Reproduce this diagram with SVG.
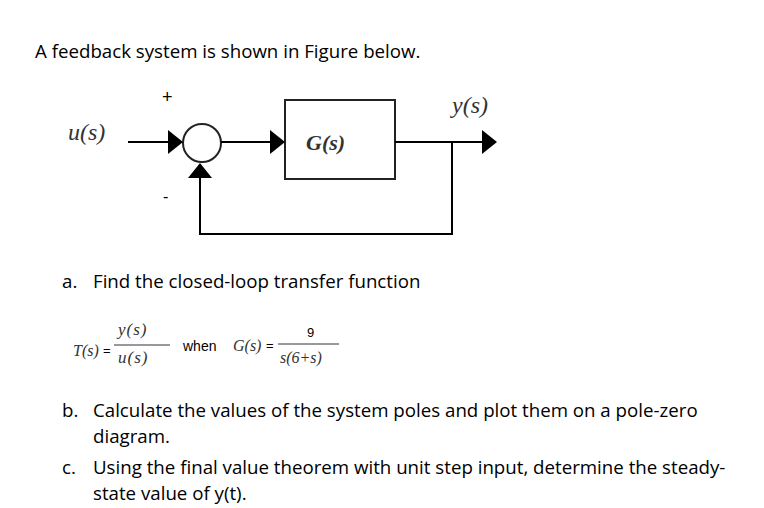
<svg xmlns="http://www.w3.org/2000/svg" width="764" height="508" viewBox="0 0 764 508">
<style>
.t{font-family:"Open Sans","Liberation Sans",sans-serif;font-size:18.7px;fill:#000}
.m{font-family:"Liberation Serif",serif;font-style:italic;fill:#333}
.s{font-family:"Liberation Sans",sans-serif;fill:#000}
.ln{stroke:#000;stroke-width:2;fill:none}
</style>
<rect width="764" height="508" fill="#fff"/>
<text class="t" x="35" y="58">A feedback system is shown in Figure below.</text>
<g id="sum"><circle cx="202" cy="143" r="19" fill="#fff" stroke="#222" stroke-width="2"/></g>
<g id="G"><rect x="285" y="100" width="110" height="79" fill="#fff" stroke="#222" stroke-width="2"/><text class="m" x="306" y="150" font-size="22" font-weight="bold" fill="#111">G(s)</text></g>
<g id="connectors">
<path class="ln" d="M128,142H168"/><path d="M168,130L183,142L168,154z"/>
<path class="ln" d="M221,142H270"/><path d="M270,130L285,142L270,154z"/>
<path class="ln" d="M395,142H482"/><path d="M482,130L497,142L482,154z"/>
<path class="ln" d="M452,142V234H200V178"/><path d="M188,178L200,163L212,178z"/>
</g>
<text class="s" x="162" y="103" font-size="18">+</text>
<text class="s" x="163" y="202" font-size="16">-</text>
<text class="m" x="68" y="140" font-size="24" fill="#555">u(s)</text>
<text class="m" x="452" y="113" font-size="24" fill="#555">y(s)</text>
<text class="t" x="62" y="288">a.</text>
<text class="t" x="93" y="288">Find the closed-loop transfer function</text>
<g id="eq">
<text class="m" x="73" y="356" font-size="16">T(s)</text>
<text class="s" x="103" y="355" font-size="13">=</text>
<text class="m" x="118" y="335" font-size="17" letter-spacing="1">y(s)</text>
<line x1="114" y1="345" x2="170" y2="345" stroke="#333" stroke-width="1"/>
<text class="m" x="118" y="363" font-size="17" letter-spacing="1">u(s)</text>
<text class="s" x="183" y="351" font-size="14">when</text>
<text class="m" x="233" y="351" font-size="16">G(s)</text>
<text class="s" x="266" y="350" font-size="13">=</text>
<text class="s" x="307" y="337" font-size="13">9</text>
<line x1="278" y1="344" x2="339" y2="344" stroke="#333" stroke-width="1"/>
<text class="m" x="280" y="363" font-size="16">s(6+s)</text>
</g>
<text class="t" x="62" y="417">b.</text>
<text class="t" x="93" y="417">Calculate the values of the system poles and plot them on a pole-zero</text>
<text class="t" x="93" y="443">diagram.</text>
<text class="t" x="62" y="474">c.</text>
<text class="t" x="93" y="474">Using the final value theorem with unit step input, determine the steady-</text>
<text class="t" x="93" y="500">state value of y(t).</text>
</svg>
